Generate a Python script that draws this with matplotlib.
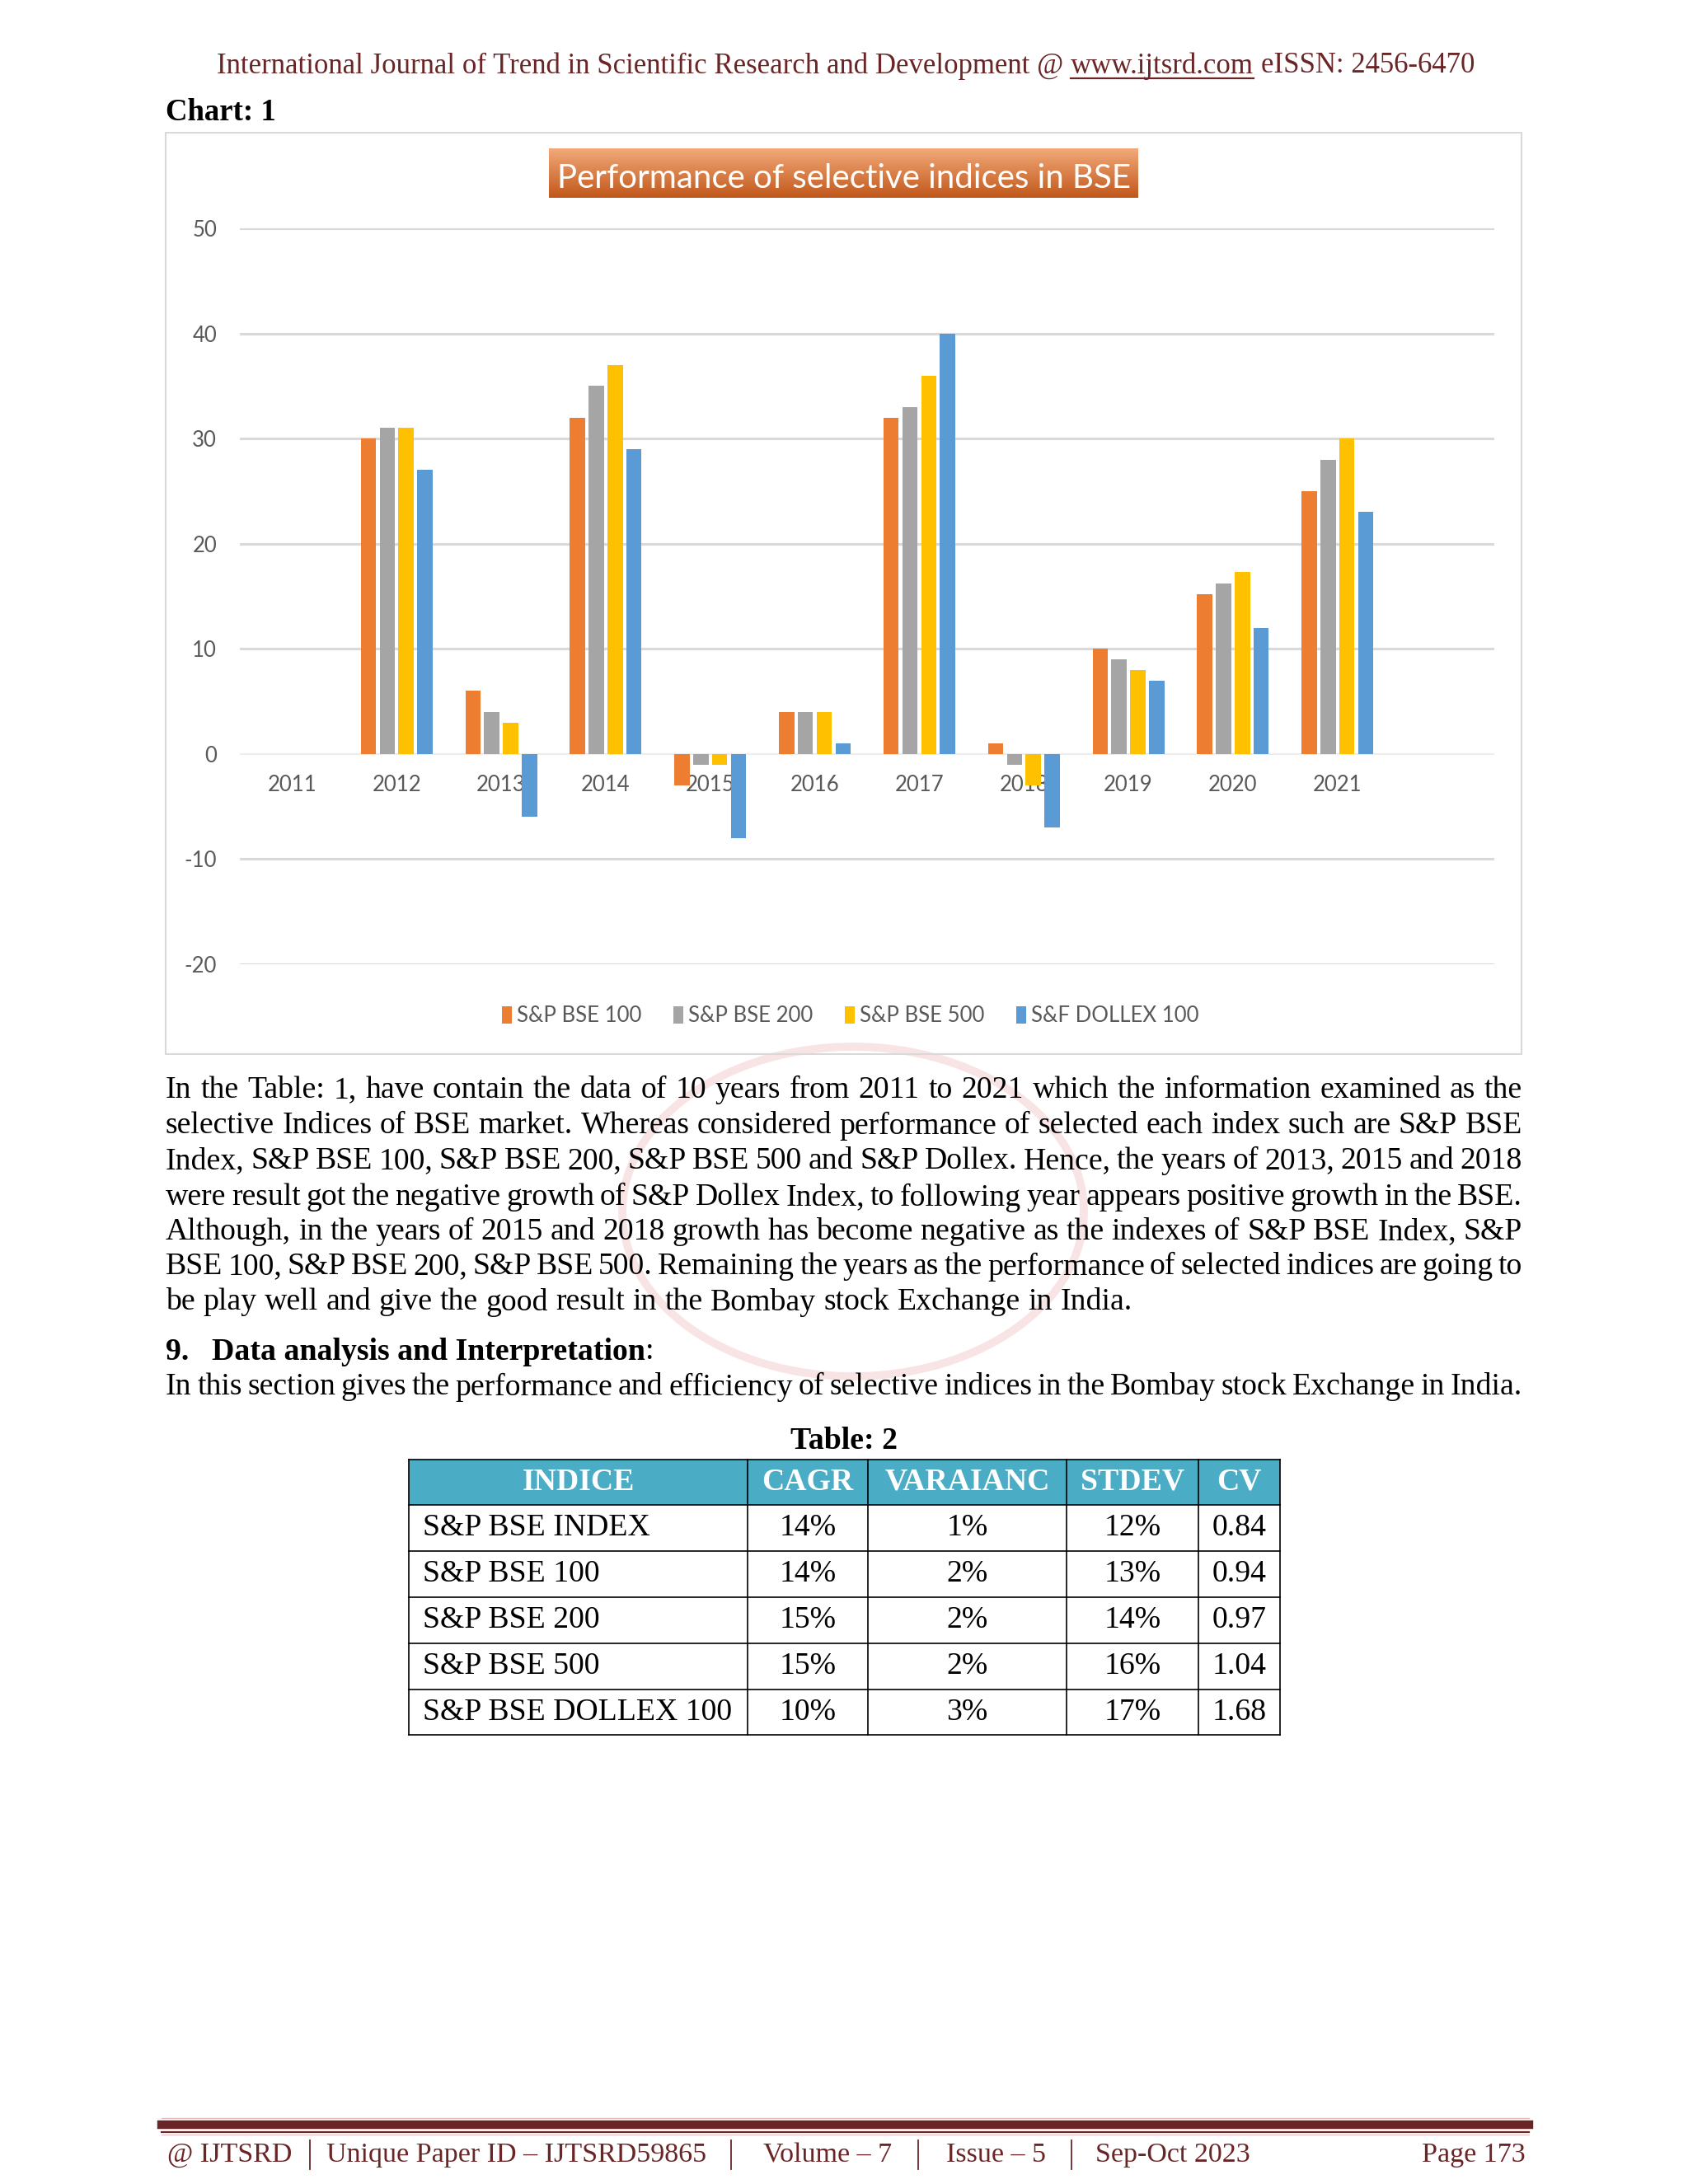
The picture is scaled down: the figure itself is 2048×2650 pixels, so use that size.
import numpy as np
import matplotlib.pyplot as plt
from matplotlib.patches import Rectangle, Ellipse
from matplotlib.lines import Line2D
from matplotlib.colors import LinearSegmentedColormap

# chart data
years = ['2011', '2012', '2013', '2014', '2015', '2016', '2017', '2018', '2019', '2020', '2021']
bse100 = [0, 30, 6, 32, -3, 4, 32, 1, 10, 15.2, 25]
bse200 = [0, 31, 4, 35, -1, 4, 33, -1, 9, 16.2, 28]
bse500 = [0, 31, 3, 37, -1, 4, 36, -3, 8, 17.3, 30]
dollex = [0, 27, -6, 29, -8, 1, 40, -7, 7, 12, 23]
series_names = ['S&P BSE 100', 'S&P BSE 200', 'S&P BSE 500', 'S&F DOLLEX 100']
series_colors = ['#ed7d31', '#a5a5a5', '#ffc000', '#5b9bd5']
y_ticks = [-20, -10, 0, 10, 20, 30, 40, 50]

# table 2
table_cols = ['INDICE', 'CAGR', 'VARAIANC', 'STDEV', 'CV']
table_index = ['S&P BSE INDEX', 'S&P BSE 100', 'S&P BSE 200', 'S&P BSE 500', 'S&P BSE DOLLEX 100']
table_cagr = ['14%', '14%', '15%', '15%', '10%']
table_var = ['1%', '2%', '2%', '2%', '3%']
table_std = ['12%', '13%', '14%', '16%', '17%']
table_cv = ['0.84', '0.94', '0.97', '1.04', '1.68']

para_lines = [
    "In the Table: 1, have contain the data of 10 years from 2011 to 2021 which the information examined as the",
    "selective Indices of BSE market. Whereas considered performance of selected each index such are S&P BSE",
    "Index, S&P BSE 100, S&P BSE 200, S&P BSE 500 and S&P Dollex. Hence, the years of 2013, 2015 and 2018",
    "were result got the negative growth of S&P Dollex Index, to following year appears positive growth in the BSE.",
    "Although, in the years of 2015 and 2018 growth has become negative as the indexes of S&P BSE Index, S&P",
    "BSE 100, S&P BSE 200, S&P BSE 500. Remaining the years as the performance of selected indices are going to",
    "be play well and give the good result in the Bombay stock Exchange in India.",
]
section_line = "In this section gives the performance and efficiency of selective indices in the Bombay stock Exchange in India."

SERIF = 'Liberation Serif'
SANS = 'Lato'
MAROON = '#6a2527'
BODY_FS = 27.2
W, H = 2048, 2650

fig = plt.figure(figsize=(20.48, 26.5), dpi=100)
fig.patch.set_facecolor('white')
renderer = fig.canvas.get_renderer()


def ptext(x, y, s, **kw):
    return fig.text(x / W, 1 - y / H, s, **kw)


def hline(x0, x1, y, **kw):
    fig.add_artist(Line2D([x0 / W, x1 / W], [1 - y / H, 1 - y / H],
                          transform=fig.transFigure, **kw))


def vline(x, y0, y1, **kw):
    fig.add_artist(Line2D([x / W, x / W], [1 - y0 / H, 1 - y1 / H],
                          transform=fig.transFigure, **kw))


def width_of(t):
    return t.get_window_extent(renderer).width


def space_width(**kw):
    a = ptext(0, 0, 'x x', **kw)
    b = ptext(0, 0, 'xx', **kw)
    w = width_of(a) - width_of(b)
    a.remove()
    b.remove()
    return w


def text_line(s, y, x0, x1, justify=True, **kw):
    # place word by word so the line can be justified like the page
    words = s.split()
    arts = [ptext(x0, y, w, va='center', ha='left', **kw) for w in words]
    ws = [width_of(a) for a in arts]
    if justify and len(words) > 1:
        gap = (x1 - x0 - sum(ws)) / (len(words) - 1)
    else:
        gap = space_width(**kw)
    x = x0
    for a, w in zip(arts, ws):
        a.set_x(x / W)
        x += w + gap
    return x


# faint watermark ring behind the paragraph
fig.add_artist(Ellipse((1035 / W, 1 - 1470 / H), 560 / W, 400 / H, transform=fig.transFigure,
                       fill=False, edgecolor='#f8e4e4', lw=7, zorder=0))

# page header
hkw = dict(fontsize=25, family=SERIF, color=MAROON)
sp = space_width(**hkw)
pieces = ['International Journal of Trend in Scientific Research and Development @',
          'www.ijtsrd.com', 'eISSN: 2456-6470']
arts = [ptext(0, 80, p, va='center', ha='left', **hkw) for p in pieces]
ws = [width_of(a) for a in arts]
x = 1026 - (sum(ws) + 2 * sp) / 2
for i, (a, w) in enumerate(zip(arts, ws)):
    a.set_x(x / W)
    if i == 1:
        hline(x, x + w, 95, color=MAROON, lw=1.6)
    x += w + sp

ptext(201, 137, 'Chart: 1', fontsize=26.5, family=SERIF, weight='bold', va='center')

# chart frame
fig.add_artist(Rectangle((201 / W, 1 - 1279 / H), (1846 - 201) / W, (1279 - 161) / H,
                         transform=fig.transFigure, fill=False, edgecolor='#d9d9d9', lw=1.5))

# title box with gradient
tax = fig.add_axes([666 / W, 1 - 240 / H, (1381 - 666) / W, 60 / H])
grad_cmap = LinearSegmentedColormap.from_list('g', ['#c1581b', '#f2a979'])
tax.imshow(np.linspace(0, 1, 100).reshape(-1, 1), aspect='auto', cmap=grad_cmap,
           extent=[0, 1, 0, 1], origin='lower')
tax.set_axis_off()
tax.text(0.5, 0.40, 'Performance of selective indices in BSE', ha='center', va='center',
         color='white', fontsize=29, family=SANS, transform=tax.transAxes)

# bars
ax = fig.add_axes([291 / W, 1 - 1170 / H, (1813 - 291) / W, (1170 - 277) / H])
x_pos = np.arange(len(years))
values = [bse100, bse200, bse500, dollex]
bw = 0.145
handles = []
for k, (vals, c) in enumerate(zip(values, series_colors)):
    b = ax.bar(x_pos + (k - 1.5) * 0.18, vals, width=bw, color=c, zorder=3,
               label=series_names[k])
    handles.append(b)

ax.set_xlim(-0.5, 11.5)
ax.set_ylim(-20, 50)
ax.set_yticks(y_ticks)
ax.set_yticklabels([str(v) for v in y_ticks], fontsize=18.5, family=SANS, color='#595959')
ax.tick_params(axis='y', length=0, pad=20)
ax.set_xticks([])
for s in ax.spines.values():
    s.set_visible(False)
ax.yaxis.grid(True, color='#d9d9d9', lw=2.2, zorder=0)
ax.get_ygridlines()[2].set_color('#ededed')
ax.get_ygridlines()[2].set_linewidth(1.5)
ax.set_axisbelow(True)
# year labels sit just under the zero line, behind the bars
for i, yr in enumerate(years):
    ax.annotate(yr, (i, 0), xytext=(0, -27), textcoords='offset points', ha='center',
                va='center', fontsize=18.5, family=SANS, color='#595959', zorder=2)

fig.legend(handles, series_names, loc='center', bbox_to_anchor=(1032 / W, 1 - 1233 / H),
           ncol=4, frameon=False, handlelength=0.45, handleheight=0.9, handletextpad=0.25,
           columnspacing=1.5, prop={'family': SANS, 'size': 18.5}, labelcolor='#595959')

# paragraph text
bkw = dict(fontsize=BODY_FS, family=SERIF, color='black')
line_ys = [1323, 1366, 1409, 1453, 1495, 1537, 1580]
for i, (s, yy) in enumerate(zip(para_lines, line_ys)):
    text_line(s, yy, 201, 1847, justify=(i < len(para_lines) - 1), **bkw)

ptext(201, 1640, '9.', va='center', ha='left', fontsize=BODY_FS, family=SERIF, weight='bold')
h2 = ptext(257, 1640, 'Data analysis and Interpretation', va='center', ha='left',
           fontsize=BODY_FS, family=SERIF, weight='bold')
ptext(257 + width_of(h2), 1640, ':', va='center', ha='left', **bkw)
text_line(section_line, 1683, 201, 1847, justify=True, **bkw)

ptext(1024, 1749, 'Table: 2', ha='center', va='center', fontsize=BODY_FS, family=SERIF,
      weight='bold')

# table
col_x = [496, 907, 1053, 1294, 1454, 1553]
row_y = [1771, 1826, 1882, 1938, 1994, 2050, 2105]
fig.add_artist(Rectangle((col_x[0] / W, 1 - row_y[1] / H), (col_x[-1] - col_x[0]) / W,
                         (row_y[1] - row_y[0]) / H, transform=fig.transFigure,
                         facecolor='#4bacc6', edgecolor='none'))
for yy in row_y:
    hline(col_x[0], col_x[-1], yy, color='black', lw=1.2)
for xx in col_x:
    vline(xx, row_y[0], row_y[-1], color='black', lw=1.2)
for j, name in enumerate(table_cols):
    cx = (col_x[j] + col_x[j + 1]) / 2
    ptext(cx, (row_y[0] + row_y[1]) / 2, name, ha='center', va='center', fontsize=BODY_FS,
          family=SERIF, weight='bold', color='white')
cols = [table_index, table_cagr, table_var, table_std, table_cv]
for i in range(len(table_index)):
    cy = (row_y[i + 1] + row_y[i + 2]) / 2
    for j, col in enumerate(cols):
        if j == 0:
            ptext(col_x[0] + 17, cy, col[i], ha='left', va='center', **bkw)
        else:
            ptext((col_x[j] + col_x[j + 1]) / 2, cy, col[i], ha='center', va='center', **bkw)

# footer
hline(196, 1855, 2570, color='#e7b9b9', lw=1.0)
hline(196, 1855, 2577.5, color=MAROON, lw=7.5)
hline(196, 1855, 2587, color=MAROON, lw=1.6)
hline(196, 1855, 2590, color='#e7b9b9', lw=0.8)
fkw = dict(fontsize=24.5, family=SERIF, color=MAROON, va='center', ha='left')
for s, xx in [('@ IJTSRD', 203), ('Unique Paper ID \u2013 IJTSRD59865', 396),
              ('Volume \u2013 7', 926), ('Issue \u2013 5', 1148), ('Sep-Oct 2023', 1329),
              ('Page 173', 1725)]:
    ptext(xx, 2615, s, **fkw)
for xx in [376, 887, 1114, 1300]:
    vline(xx, 2597, 2632, color=MAROON, lw=1.3)

fig.savefig('out.png', dpi=100, facecolor='white')
